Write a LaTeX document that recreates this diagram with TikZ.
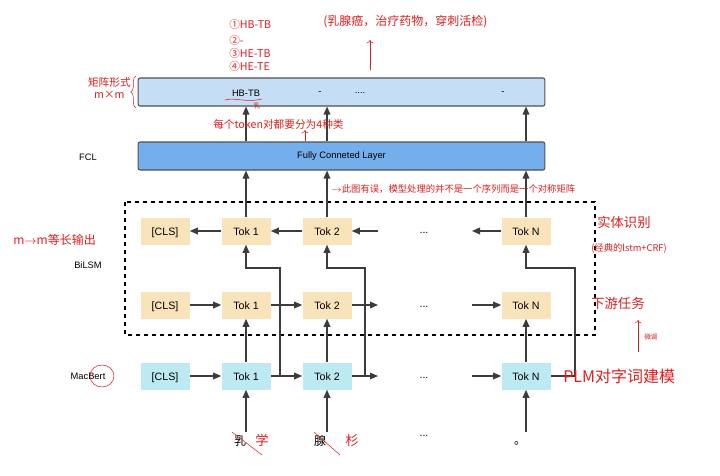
\documentclass[tikz,border=0pt]{standalone}
\usepackage{fontspec}
\setmainfont{Liberation Sans}
\newfontfamily\cjk{Noto Sans CJK SC}
\usetikzlibrary{arrows.meta,decorations.pathreplacing}

\tikzset{
  tok/.style={draw=none,minimum width=36.75pt,minimum height=20.25pt,inner sep=0pt,font=\footnotesize,text height=1.6ex,text depth=0.4ex},
  lstm/.style={tok,fill={rgb,255:red,249;green,227;blue,186}},
  bert/.style={tok,fill={rgb,255:red,189;green,233;blue,242}},
  bar/.style={draw={rgb,255:red,80;green,80;blue,80},rounded corners=1.5pt,line width=0.8pt},
  arr/.style={-{Triangle[length=6pt,width=5pt]},line width=0.9pt,color={rgb,255:red,60;green,60;blue,60}},
  side/.style={font=\scriptsize},
  note/.style={color={rgb,255:red,220;green,30;blue,30},font=\cjk\footnotesize,inner sep=0.75pt},
}

\begin{document}
\begin{tikzpicture}[x=0.75pt,y=0.75pt,yscale=-1,xscale=1]
\useasboundingbox (0,0) rectangle (720,475);
%output bar and fully connected layer
\node [bar,fill={rgb,255:red,197;green,221;blue,245},minimum width=305pt,minimum height=21pt] (out) at (341.5,92) {};
\node [bar,fill={rgb,255:red,116;green,174;blue,237},minimum width=305pt,minimum height=21pt,font=\scriptsize] (fcl) at (341.5,156) {Fully Conneted Layer};
\node [font=\scriptsize] at (246,93) {HB-TB};
\node [font=\scriptsize] at (320,93) {-};
\node [font=\scriptsize] at (360,93) {....};
\node [font=\scriptsize] at (503,93) {-};
%side labels
\node [side] at (88,157) {FCL};
\node [side] at (88,265) {BiLSM};
\node [side] (mb) at (88,376) {MacBert};
%bilstm frame
\draw [dashed,line width=0.9pt] (125,202) rectangle (595,335);
%token rows
\node [lstm] (b0) at (165,231) {[CLS]};
\node [lstm] (b1) at (246,231) {Tok 1};
\node [lstm] (b2) at (327,231) {Tok 2};
\node [font=\footnotesize] (bd) at (424,233) {...};
\node [lstm] (bn) at (526,231) {Tok N};
\node [lstm] (f0) at (165,305) {[CLS]};
\node [lstm] (f1) at (246,305) {Tok 1};
\node [lstm] (f2) at (327,305) {Tok 2};
\node [font=\footnotesize] (fd) at (424,307) {...};
\node [lstm] (fn) at (526,305) {Tok N};
\node [bert] (m0) at (165,376) {[CLS]};
\node [bert] (m1) at (246,376) {Tok 1};
\node [bert] (m2) at (327,376) {Tok 2};
\node [font=\footnotesize] (md) at (424,378) {...};
\node [bert] (mn) at (526,376) {Tok N};
%input characters
\node [font=\cjk\small] (c1) at (240,441) {乳};
\node [font=\cjk\small] (c2) at (320,441) {腺};
\node [font=\footnotesize] (cd) at (424,436) {...};
\node [font=\cjk\small] (cn) at (520,443) {。};
%horizontal arrows
\draw [arr] (b1) -- (b0); \draw [arr] (b2) -- (b1);
\draw [arr] (378,231) -- (b2); \draw [arr] (bn) -- (472,231);
\draw [arr] (f0) -- (f1); \draw [arr] (f1) -- (f2);
\draw [arr] (f2) -- (378,305); \draw [arr] (472,305) -- (fn);
\draw [arr] (m0) -- (m1); \draw [arr] (m1) -- (m2);
\draw [arr] (m2) -- (378,376); \draw [arr] (472,376) -- (mn);
%vertical arrows
\foreach \i in {1,2,n}{
  \draw [arr] (m\i) -- (f\i);
  \draw [arr] (b\i.north) -- (b\i.north |- fcl.south);
  \draw [arr] (b\i.north |- fcl.north) -- (b\i.north |- out.south);
}
\draw [arr] (246,432) -- (m1); \draw [arr] (327,432) -- (m2); \draw [arr] (526,432) -- (mn);
%bert outputs routed to backward lstm
\draw [arr] (280,376) -- (280,268) -- (246,268) -- (b1);
\draw [arr] (365,376) -- (365,268) -- (327,268) -- (b2);
\draw [arr] (mn.east) -- (575,376) -- (575,268) -- (526,268) -- (bn);
%handwritten notes
\node [note,anchor=west,font=\cjk\footnotesize,align=left] at (228,45) {①HB-TB\\[3pt]②-\\③HE-TB\\④HE-TE};
\node [note,anchor=west,font=\cjk\small] at (322,22) {(乳腺癌，治疗药物，穿刺活检)};
\draw [note,->] (370,70) -- (370,40);
\node [note,anchor=east,align=center,font=\cjk\footnotesize] at (132,88) {矩阵形式\\m×m};
\draw [note,decorate,decoration={brace,amplitude=4pt}] (136,108) -- (136,76);
\node [note,font=\cjk\tiny] at (257,106) {乳};
\draw [note] (225,100) .. controls (235,97) and (245,103) .. (262,99);
\node [note,anchor=west] at (212,124) {每个token对都要分为4种类};
\draw [note,->] (305,141) -- (305,130);
\node [note,anchor=west,font=\cjk\scriptsize] at (330,189) {$\to$此图有误，模型处理的并不是一个序列而是一个对称矩阵};
\node [note,anchor=west,font=\cjk\small] at (12,240) {m$\to$m等长输出};
\node [note,anchor=west,font=\cjk\normalsize] at (596,222) {实体识别};
\node [note,anchor=west,font=\cjk\scriptsize] at (590,248) {(经典的lstm+CRF)};
\node [note,anchor=west,font=\cjk\normalsize] at (590,303) {下游任务};
\draw [note,->] (638,352) -- (638,320);
\node [note,anchor=west,font=\cjk\tiny] at (643,337) {微调};
\node [note,anchor=west,font=\cjk\large] at (562,376) {PLM对字词建模};
\draw [note] (102,376) ellipse (12 and 11);
\node [note,font=\cjk\normalsize] at (262,440) {学};
\node [note,font=\cjk\normalsize] at (352,440) {杉};
\draw [note] (232,432) -- (262,455);
\draw [note] (314,432) -- (340,455);
\end{tikzpicture}
\end{document}
